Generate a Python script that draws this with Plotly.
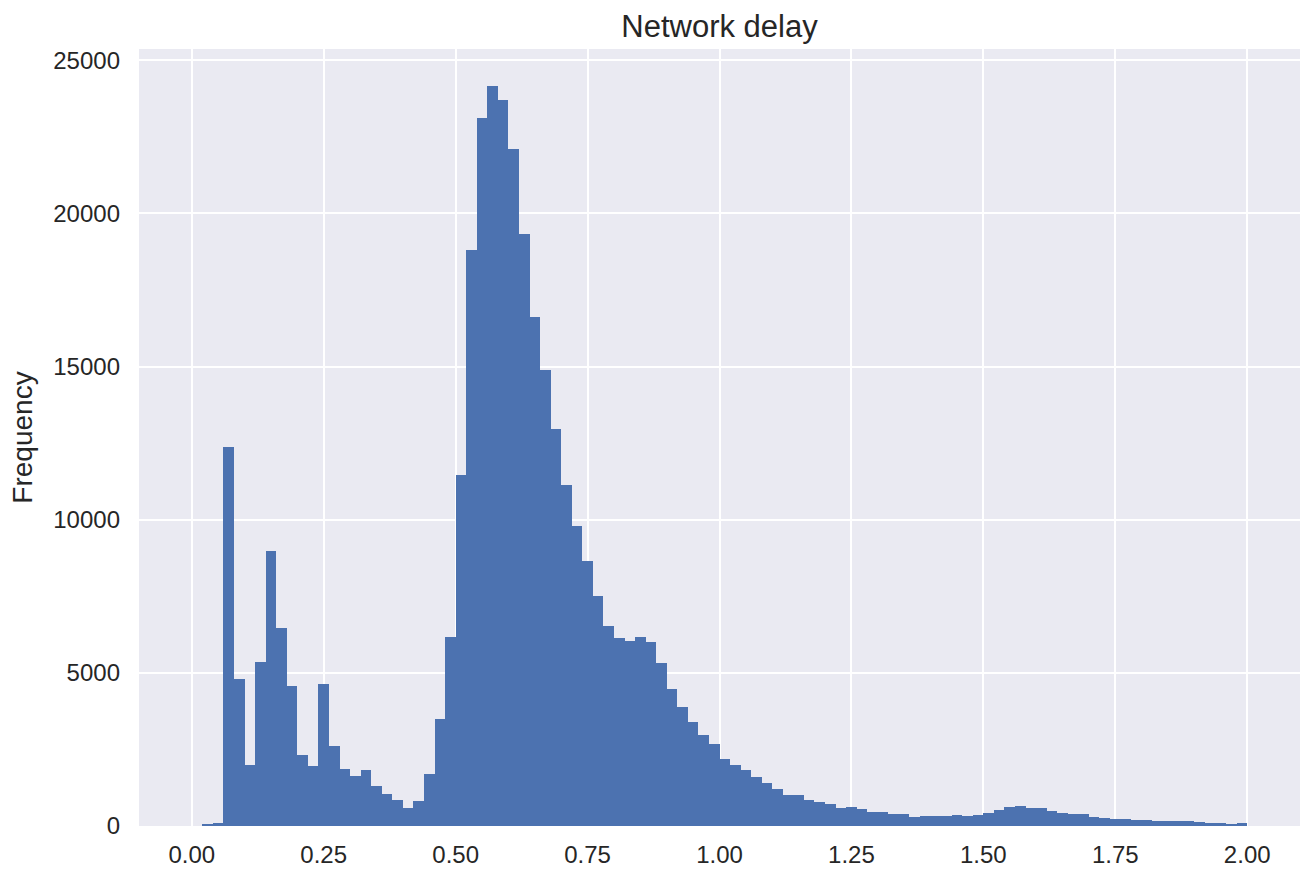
import numpy as np
import plotly.graph_objects as go

# Histogram of network delay: 100 bins of width 0.02 from 0.00 to 2.00
bin_start = 0.0
bin_width = 0.02
counts = [
    0, 65, 98, 12374, 4799, 1992, 5354, 8979, 6465, 4571,
    2318, 1959, 4636, 2612, 1861, 1632, 1828, 1306, 1045, 849,
    588, 816, 1698, 3493, 6171, 11460, 18806, 23116, 24160, 23703,
    22103, 19328, 16618, 14888, 12962, 11133, 9795, 8652, 7509, 6530,
    6138, 6040, 6171, 6007, 5322, 4473, 3885, 3395, 2971, 2677,
    2187, 1992, 1828, 1600, 1404, 1208, 1012, 1012, 849, 784,
    718, 588, 620, 555, 457, 457, 392, 392, 294, 326,
    326, 326, 359, 326, 359, 424, 522, 620, 653, 588,
    588, 490, 424, 392, 392, 294, 261, 229, 229, 196,
    196, 163, 163, 163, 163, 131, 98, 98, 65, 98,
]
x_ticks = [0.0, 0.25, 0.5, 0.75, 1.0, 1.25, 1.5, 1.75, 2.0]
y_ticks = [0, 5000, 10000, 15000, 20000, 25000]

centers = [bin_start + bin_width * (i + 0.5) for i in range(len(counts))]

fig = go.Figure(
    go.Bar(
        x=centers,
        y=counts,
        width=bin_width,
        marker=dict(color="#4C72B0", line=dict(width=0)),
        hoverinfo="x+y",
    )
)

font = "Liberation Sans, Arial, DejaVu Sans, sans-serif"
fig.update_layout(
    width=1314,
    height=883,
    margin=dict(l=139, r=14, t=49, b=57),
    paper_bgcolor="white",
    plot_bgcolor="#EAEAF2",
    bargap=0,
    showlegend=False,
    font=dict(family=font, size=24, color="#262626"),
    title=dict(
        text="Network delay",
        x=0.5,
        xref="paper",
        xanchor="center",
        yref="container",
        y=1 - 26 / 883,
        yanchor="middle",
        font=dict(size=31, color="#262626"),
    ),
)
fig.update_xaxes(
    range=[-0.1, 2.1],
    tickvals=x_ticks,
    ticktext=[f"{v:.2f}" for v in x_ticks],
    showgrid=True,
    gridcolor="white",
    gridwidth=2,
    zeroline=False,
    showline=False,
    ticks="",
    ticklabelstandoff=12,
    tickfont=dict(size=24, color="#262626"),
)
fig.update_yaxes(
    range=[0, 25370],
    tickvals=y_ticks,
    ticktext=[str(v) for v in y_ticks],
    showgrid=True,
    gridcolor="white",
    gridwidth=2,
    zeroline=False,
    showline=False,
    ticks="",
    ticklabelstandoff=18,
    tickfont=dict(size=24, color="#262626"),
    title=dict(text="Frequency", font=dict(size=28, color="#262626"), standoff=12),
)

fig.write_html(
    "out.html",
    config={"displayModeBar": False},
    post_script="document.body.style.margin='0px';",
)
